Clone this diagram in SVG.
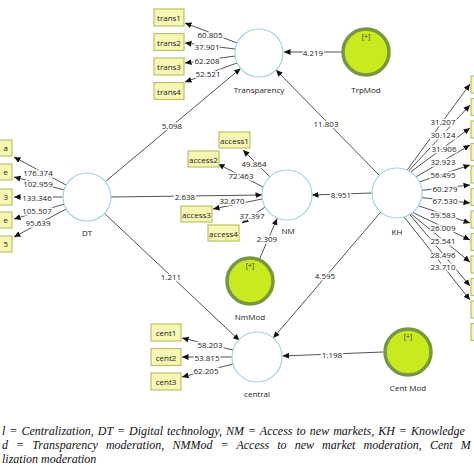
<svg xmlns="http://www.w3.org/2000/svg" width="474" height="474" viewBox="0 0 474 474">
<style>
.box{fill:#f7f6b2;stroke:#b9c16c;stroke-width:1.2}
.lv{fill:#fff;stroke:#a9d3df;stroke-width:1.2}
.mod{fill:#c9ea1f;stroke:#7a9640;stroke-width:3.5}
.ln{stroke:#333;stroke-width:0.85;fill:none}
.t{font-family:"Open Sans","Noto Sans",sans-serif;font-size:8px;fill:#222}
.bt{font-family:"Open Sans","Noto Sans",sans-serif;font-size:8px;fill:#222;text-anchor:middle;dominant-baseline:central}
.lb{font-family:"Open Sans","Noto Sans",sans-serif;font-size:8px;fill:#222;text-anchor:middle;dominant-baseline:central;stroke:#fff;stroke-width:3;paint-order:stroke}
.nm{font-family:"Open Sans","Noto Sans",sans-serif;font-size:8px;fill:#222;text-anchor:middle}
.pl{font-family:"Open Sans","Noto Sans",sans-serif;font-size:7px;fill:#333;text-anchor:middle}
.cap{font-family:"Liberation Serif","Times New Roman",serif;font-style:italic;font-size:12px;fill:#111}
</style>
<defs>
<marker id="ah" viewBox="0 0 10 10" refX="10" refY="5" markerWidth="6.5" markerHeight="6.5" markerUnits="userSpaceOnUse" orient="auto"><path d="M0,0.5 L10,5 L0,9.5 z" fill="#111"/></marker>
</defs>
<rect width="474" height="474" fill="#fff"/>

<g id="connectors">
<line class="ln" x1="342" y1="52" x2="284" y2="52" marker-end="url(#ah)"/>
<line class="ln" x1="105.4" y1="181.6" x2="240.6" y2="68.4" marker-end="url(#ah)"/>
<line class="ln" x1="111" y1="197" x2="262" y2="195" marker-end="url(#ah)"/>
<line class="ln" x1="104.5" y1="213.4" x2="239.5" y2="340.6" marker-end="url(#ah)"/>
<line class="ln" x1="379.3" y1="175.3" x2="276" y2="70" marker-end="url(#ah)"/>
<line class="ln" x1="372" y1="193" x2="312" y2="195" marker-end="url(#ah)"/>
<line class="ln" x1="380.8" y1="212" x2="273.2" y2="338" marker-end="url(#ah)"/>
<line class="ln" x1="259.5" y1="259" x2="277.1" y2="218.5" marker-end="url(#ah)"/>
<line class="ln" x1="383" y1="352" x2="282.5" y2="356" marker-end="url(#ah)"/>
<line class="ln" x1="237" y1="43" x2="185" y2="23" marker-end="url(#ah)"/>
<line class="ln" x1="235.5" y1="49" x2="185" y2="43" marker-end="url(#ah)"/>
<line class="ln" x1="235.2" y1="56" x2="185" y2="63" marker-end="url(#ah)"/>
<line class="ln" x1="237" y1="63" x2="185" y2="82" marker-end="url(#ah)"/>
<line class="ln" x1="66" y1="185" x2="14" y2="157" marker-end="url(#ah)"/>
<line class="ln" x1="64.5" y1="190" x2="14" y2="177" marker-end="url(#ah)"/>
<line class="ln" x1="63" y1="197" x2="14" y2="197" marker-end="url(#ah)"/>
<line class="ln" x1="64.5" y1="204" x2="14" y2="219" marker-end="url(#ah)"/>
<line class="ln" x1="66" y1="209" x2="14" y2="237" marker-end="url(#ah)"/>
<line class="ln" x1="270" y1="177" x2="243" y2="150" marker-end="url(#ah)"/>
<line class="ln" x1="263" y1="187" x2="218" y2="164" marker-end="url(#ah)"/>
<line class="ln" x1="262" y1="199" x2="213" y2="209" marker-end="url(#ah)"/>
<line class="ln" x1="265" y1="207" x2="242" y2="223" marker-end="url(#ah)"/>
<line class="ln" x1="233" y1="350" x2="182" y2="338" marker-end="url(#ah)"/>
<line class="ln" x1="232" y1="357" x2="182" y2="357" marker-end="url(#ah)"/>
<line class="ln" x1="233" y1="364" x2="182" y2="377" marker-end="url(#ah)"/>
<line class="ln" x1="407.1" y1="170.1" x2="470" y2="84" marker-end="url(#ah)"/>
<line class="ln" x1="408.7" y1="170.9" x2="470" y2="105" marker-end="url(#ah)"/>
<line class="ln" x1="410.6" y1="172" x2="470" y2="128" marker-end="url(#ah)"/>
<line class="ln" x1="416.1" y1="176.9" x2="470" y2="145" marker-end="url(#ah)"/>
<line class="ln" x1="419.4" y1="181.9" x2="470" y2="165" marker-end="url(#ah)"/>
<line class="ln" x1="421.9" y1="190.3" x2="470" y2="185" marker-end="url(#ah)"/>
<line class="ln" x1="421.6" y1="197.6" x2="470" y2="203" marker-end="url(#ah)"/>
<line class="ln" x1="418.5" y1="205.8" x2="470" y2="223" marker-end="url(#ah)"/>
<line class="ln" x1="412.7" y1="212.4" x2="470" y2="240" marker-end="url(#ah)"/>
<line class="ln" x1="410.9" y1="213.8" x2="470" y2="262" marker-end="url(#ah)"/>
<line class="ln" x1="409.7" y1="214.5" x2="470" y2="286" marker-end="url(#ah)"/>
<line class="ln" x1="404.1" y1="217" x2="470" y2="300" marker-end="url(#ah)"/>

<text class="lb" x="313" y="52">4.219</text>
<text class="lb" x="172" y="125">5.098</text>
<text class="lb" x="185" y="196">2.638</text>
<text class="lb" x="171" y="276">1.211</text>
<text class="lb" x="326" y="123">11.803</text>
<text class="lb" x="341" y="194">8.951</text>
<text class="lb" x="325" y="275">4.595</text>
<text class="lb" x="267" y="238">2.309</text>
<text class="lb" x="332" y="354">1.198</text>
<text class="lb" x="210" y="34">60.805</text>
<text class="lb" x="207" y="46">37.901</text>
<text class="lb" x="207" y="60">62.208</text>
<text class="lb" x="208" y="73">52.521</text>
<text class="lb" x="38" y="172">176.374</text>
<text class="lb" x="38" y="183">102.959</text>
<text class="lb" x="37" y="197">133.346</text>
<text class="lb" x="37" y="210">105.507</text>
<text class="lb" x="38" y="222">95.639</text>
<text class="lb" x="254" y="163">49.864</text>
<text class="lb" x="241" y="175">72.463</text>
<text class="lb" x="232" y="200">32.670</text>
<text class="lb" x="252" y="215">37.397</text>
<text class="lb" x="210" y="344">58.203</text>
<text class="lb" x="207" y="357">53.815</text>
<text class="lb" x="206" y="370">62.205</text>
<text class="lb" x="443" y="121">31.207</text>
<text class="lb" x="443" y="134">30.124</text>
<text class="lb" x="444" y="148">31.906</text>
<text class="lb" x="443" y="161">32.923</text>
<text class="lb" x="443" y="174">56.495</text>
<text class="lb" x="445" y="188">60.279</text>
<text class="lb" x="445" y="200">67.530</text>
<text class="lb" x="443" y="214">59.583</text>
<text class="lb" x="443" y="227">26.009</text>
<text class="lb" x="443" y="240">25.541</text>
<text class="lb" x="443" y="254">28.496</text>
<text class="lb" x="443" y="266">23.710</text>
</g>

<g id="Transparency">
<circle class="lv" cx="259" cy="53" r="24"/>
<text class="nm" x="259" y="93">Transparency</text>
</g>
<g id="TrpMod">
<circle class="mod" cx="366" cy="52" r="23"/>
<text class="pl" x="366" y="39">[+]</text>
<text class="nm" x="366" y="93">TrpMod</text>
</g>
<g id="DT">
<circle class="lv" cx="87" cy="197" r="24"/>
<text class="nm" x="87" y="236">DT</text>
</g>
<g id="NM">
<circle class="lv" cx="287" cy="195" r="25"/>
<text class="nm" x="288" y="234">NM</text>
</g>
<g id="KH">
<circle class="lv" cx="397" cy="193" r="25"/>
<text class="nm" x="397" y="235">KH</text>
</g>
<g id="NmMod">
<circle class="mod" cx="250" cy="281" r="23"/>
<text class="pl" x="250" y="268">[+]</text>
<text class="nm" x="250" y="320">NmMod</text>
</g>
<g id="central">
<circle class="lv" cx="257" cy="357" r="25"/>
<text class="nm" x="257" y="397">central</text>
</g>
<g id="CentMod">
<circle class="mod" cx="408" cy="352" r="23"/>
<text class="pl" x="408" y="339">[+]</text>
<text class="nm" x="408" y="391">Cent Mod</text>
</g>

<g id="trans-indicators">
<rect class="box" x="154" y="9" width="30" height="17"/><text class="bt" x="169" y="17.5">trans1</text>
<rect class="box" x="154" y="33.5" width="30" height="17"/><text class="bt" x="169" y="42">trans2</text>
<rect class="box" x="154" y="58" width="30" height="17"/><text class="bt" x="169" y="66.5">trans3</text>
<rect class="box" x="154" y="82.5" width="30" height="17"/><text class="bt" x="169" y="91">trans4</text>
</g>
<g id="access-indicators">
<rect class="box" x="219" y="132" width="31" height="16"/><text class="bt" x="234.5" y="140">access1</text>
<rect class="box" x="188" y="151" width="31" height="16"/><text class="bt" x="203.5" y="159">access2</text>
<rect class="box" x="181" y="206" width="31" height="16"/><text class="bt" x="196.5" y="214">access3</text>
<rect class="box" x="208" y="225" width="31" height="16"/><text class="bt" x="223.5" y="233">access4</text>
</g>
<g id="cent-indicators">
<rect class="box" x="151" y="324" width="30" height="17"/><text class="bt" x="166" y="332.5">cent1</text>
<rect class="box" x="151" y="348.5" width="30" height="17"/><text class="bt" x="166" y="357">cent2</text>
<rect class="box" x="151" y="373" width="30" height="17"/><text class="bt" x="166" y="381.5">cent3</text>
</g>
<g id="DT-indicators">
<rect class="box" x="-20" y="140" width="32" height="16"/><text class="t" x="8" y="151" text-anchor="end">a</text>
<rect class="box" x="-20" y="164" width="32" height="16"/><text class="t" x="8" y="175" text-anchor="end">e</text>
<rect class="box" x="-20" y="189" width="32" height="16"/><text class="t" x="8" y="200" text-anchor="end">3</text>
<rect class="box" x="-20" y="212" width="32" height="16"/><text class="t" x="8" y="223" text-anchor="end">e</text>
<rect class="box" x="-20" y="236" width="32" height="16"/><text class="t" x="8" y="247" text-anchor="end">5</text>
</g>
<g id="KH-indicators">
<rect class="box" x="471" y="76" width="30" height="17"/>
<rect class="box" x="471" y="98.5" width="30" height="17"/>
<rect class="box" x="471" y="121" width="30" height="17"/>
<rect class="box" x="471" y="143.5" width="30" height="17"/>
<rect class="box" x="471" y="166" width="30" height="17"/>
<rect class="box" x="471" y="188.5" width="30" height="17"/>
<rect class="box" x="471" y="211" width="30" height="17"/>
<rect class="box" x="471" y="233.5" width="30" height="17"/>
<rect class="box" x="471" y="256" width="30" height="17"/>
<rect class="box" x="471" y="278.5" width="30" height="17"/>
<rect class="box" x="471" y="301" width="30" height="17"/>
<rect class="box" x="471" y="323.5" width="30" height="17"/>
</g>

<g id="caption">
<text class="cap" x="2" y="435" word-spacing="1">l = Centralization, DT = Digital technology, NM = Access to new markets, KH = Knowledge</text>
<text class="cap" x="2" y="449" word-spacing="5.1">d = Transparency moderation, NMMod = Access to new market moderation, Cent M</text>
<text class="cap" x="2" y="463">lization moderation</text>
</g>
</svg>
